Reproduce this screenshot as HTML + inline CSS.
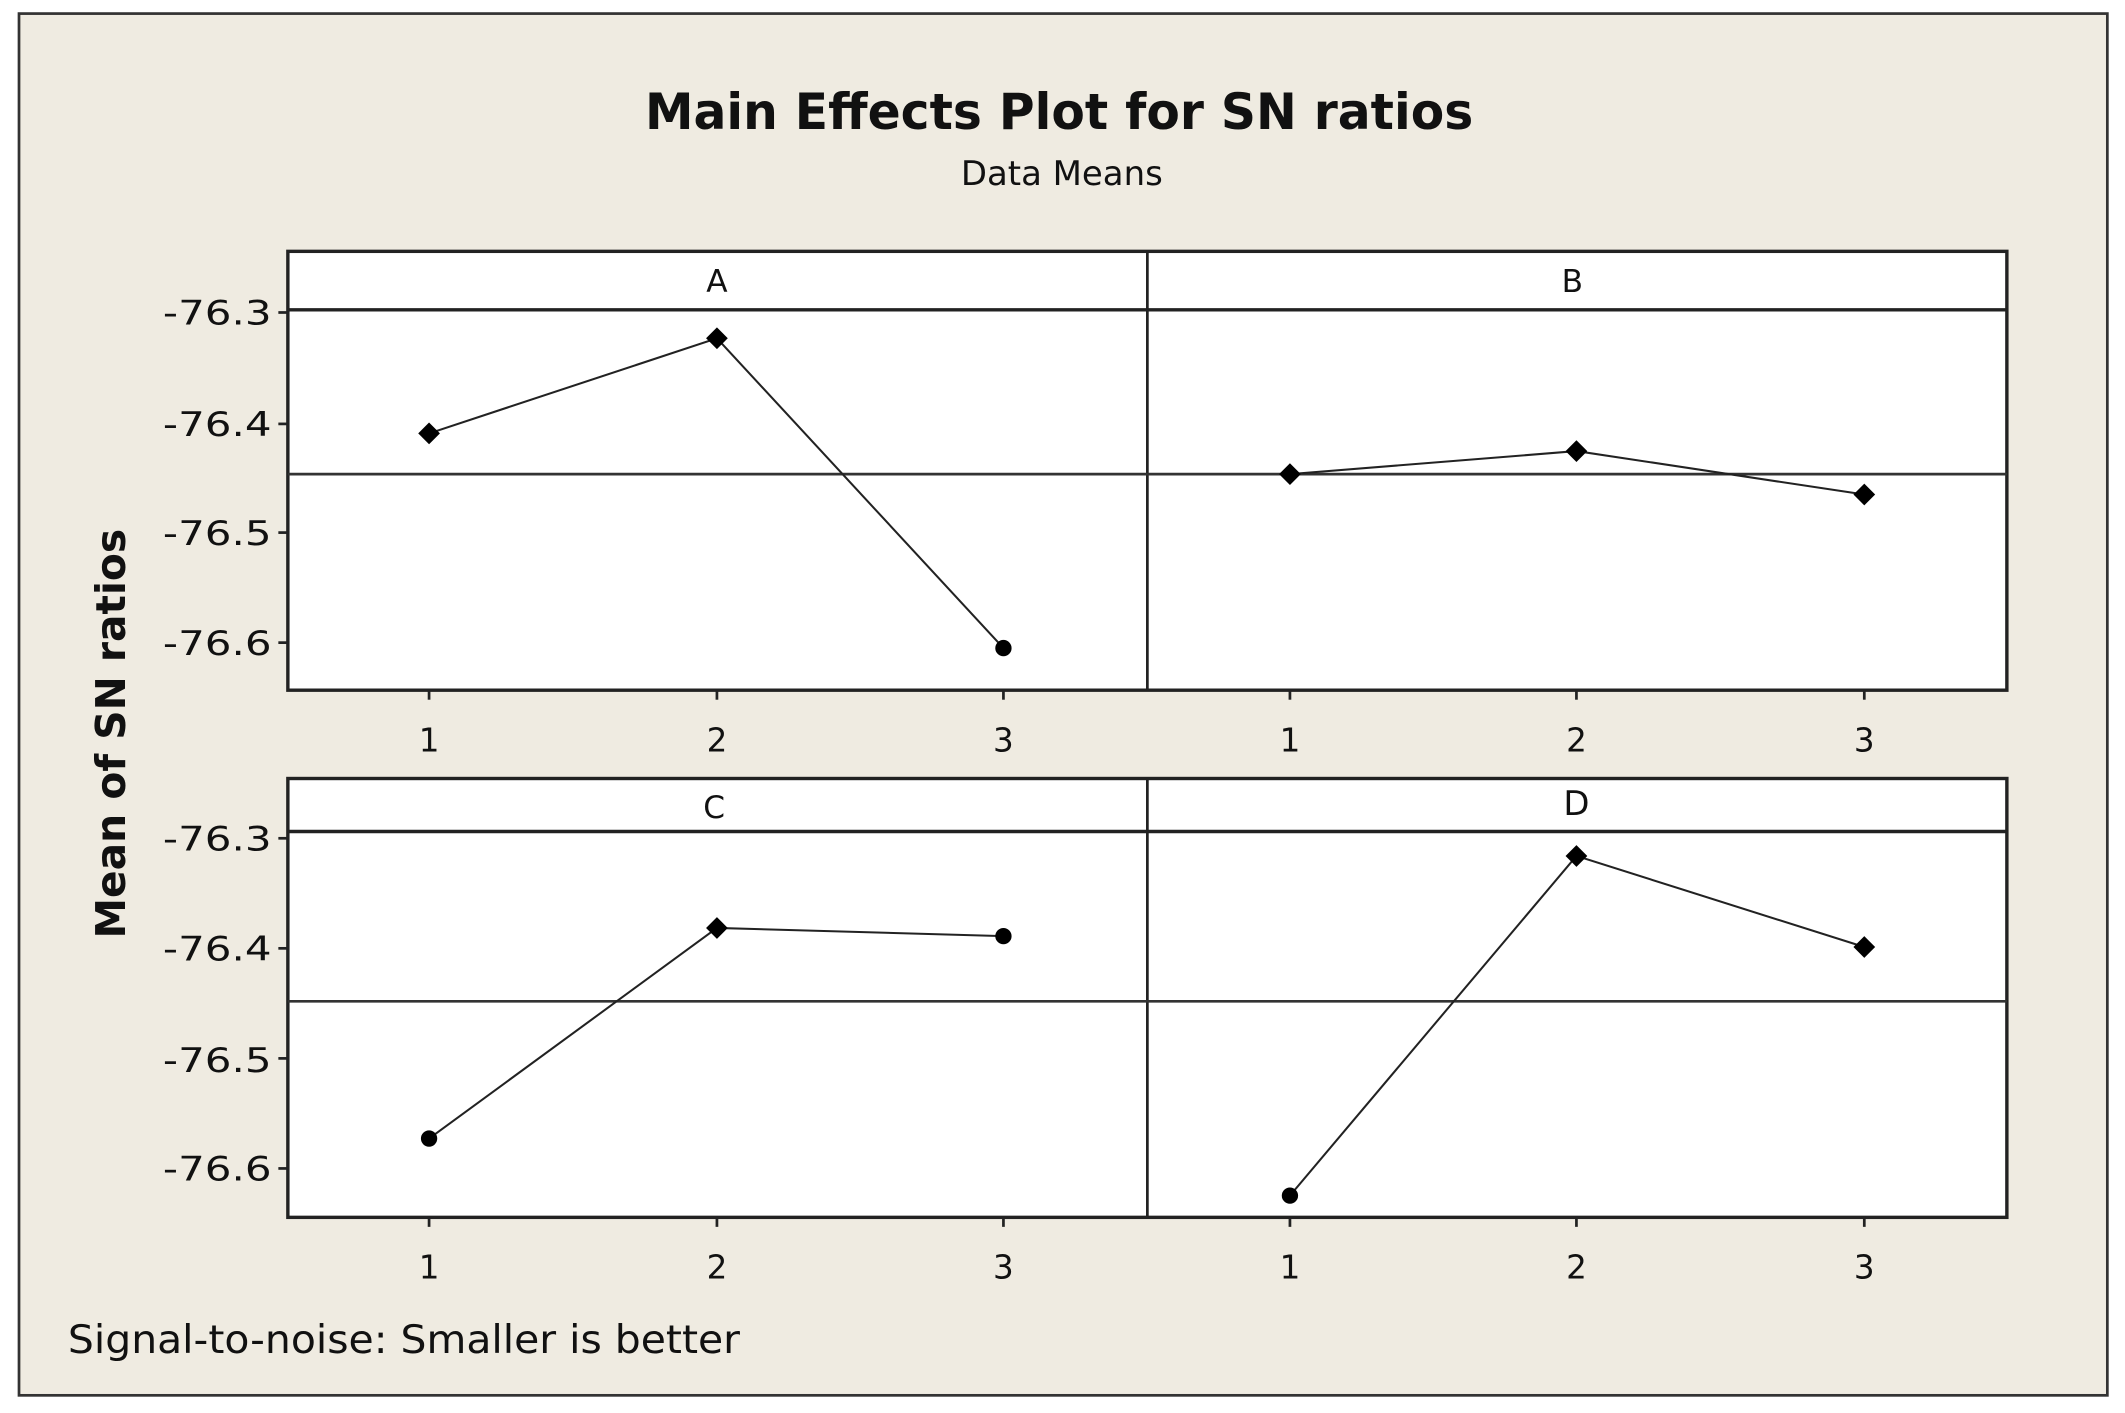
<!DOCTYPE html>
<html><head><meta charset="utf-8"><style>
html,body{margin:0;padding:0;background:#fff;}
svg{display:block;}
text{font-family:"DejaVu Sans","Liberation Sans",sans-serif;fill:#111;}
</style></head><body>
<svg width="2125" height="1413" viewBox="0 0 1565 1040" preserveAspectRatio="none" xmlns="http://www.w3.org/2000/svg">
<rect x="0" y="0" width="1565" height="1040" fill="#ffffff"/>
<rect x="14" y="10" width="1538" height="1017" fill="#efebe1" stroke="#333" stroke-width="2"/>
<text x="780" y="95" text-anchor="middle" font-size="37" font-weight="bold" textLength="610" lengthAdjust="spacingAndGlyphs">Main Effects Plot for SN ratios</text>
<text x="782" y="136" text-anchor="middle" font-size="25">Data Means</text>
<text transform="translate(92,540) rotate(-90)" text-anchor="middle" font-size="30" font-weight="bold">Mean of SN ratios</text>
<text x="50" y="996" font-size="29" textLength="495" lengthAdjust="spacingAndGlyphs">Signal-to-noise: Smaller is better</text>

<!-- top panels -->
<rect x="212" y="185" width="1266" height="323" fill="#fff" stroke="#222" stroke-width="2.5"/>
<line x1="212" y1="228" x2="1478" y2="228" stroke="#222" stroke-width="2.5"/>
<line x1="845" y1="185" x2="845" y2="508" stroke="#222" stroke-width="2"/>
<line x1="212" y1="349" x2="1478" y2="349" stroke="#333" stroke-width="2"/>
<text x="528" y="215" text-anchor="middle" font-size="23">A</text>
<text x="1158" y="215" text-anchor="middle" font-size="23">B</text>
<g font-size="25" text-anchor="end">
<text x="200" y="239" textLength="80" lengthAdjust="spacingAndGlyphs">-76.3</text><text x="200" y="321" textLength="80" lengthAdjust="spacingAndGlyphs">-76.4</text><text x="200" y="401" textLength="80" lengthAdjust="spacingAndGlyphs">-76.5</text><text x="200" y="482" textLength="80" lengthAdjust="spacingAndGlyphs">-76.6</text>
</g>
<g stroke="#222" stroke-width="2">
<line x1="205" y1="230" x2="212" y2="230"/><line x1="205" y1="312" x2="212" y2="312"/><line x1="205" y1="392" x2="212" y2="392"/><line x1="205" y1="473" x2="212" y2="473"/>
<line x1="316" y1="508" x2="316" y2="515"/><line x1="528" y1="508" x2="528" y2="515"/><line x1="739" y1="508" x2="739" y2="515"/>
<line x1="950" y1="508" x2="950" y2="515"/><line x1="1161" y1="508" x2="1161" y2="515"/><line x1="1373" y1="508" x2="1373" y2="515"/>
</g>
<g font-size="24" text-anchor="middle">
<text x="316" y="553">1</text><text x="528" y="553">2</text><text x="739" y="553">3</text>
<text x="950" y="553">1</text><text x="1161" y="553">2</text><text x="1373" y="553">3</text>
</g>
<polyline points="316,319 528,249 739,477" fill="none" stroke="#222" stroke-width="1.5"/>
<polyline points="950,349 1161,332 1373,364" fill="none" stroke="#222" stroke-width="1.5"/>

<!-- bottom panels -->
<rect x="212" y="573" width="1266" height="323" fill="#fff" stroke="#222" stroke-width="2.5"/>
<line x1="212" y1="612" x2="1478" y2="612" stroke="#222" stroke-width="2.5"/>
<line x1="845" y1="573" x2="845" y2="896" stroke="#222" stroke-width="2"/>
<line x1="212" y1="737" x2="1478" y2="737" stroke="#333" stroke-width="2"/>
<text x="526" y="602" text-anchor="middle" font-size="23">C</text>
<text x="1161" y="600" text-anchor="middle" font-size="25">D</text>
<g font-size="25" text-anchor="end">
<text x="200" y="626" textLength="80" lengthAdjust="spacingAndGlyphs">-76.3</text><text x="200" y="707" textLength="80" lengthAdjust="spacingAndGlyphs">-76.4</text><text x="200" y="789" textLength="80" lengthAdjust="spacingAndGlyphs">-76.5</text><text x="200" y="869" textLength="80" lengthAdjust="spacingAndGlyphs">-76.6</text>
</g>
<g stroke="#222" stroke-width="2">
<line x1="205" y1="617" x2="212" y2="617"/><line x1="205" y1="698" x2="212" y2="698"/><line x1="205" y1="779" x2="212" y2="779"/><line x1="205" y1="860" x2="212" y2="860"/>
<line x1="316" y1="896" x2="316" y2="903"/><line x1="528" y1="896" x2="528" y2="903"/><line x1="739" y1="896" x2="739" y2="903"/>
<line x1="950" y1="896" x2="950" y2="903"/><line x1="1161" y1="896" x2="1161" y2="903"/><line x1="1373" y1="896" x2="1373" y2="903"/>
</g>
<g font-size="24" text-anchor="middle">
<text x="316" y="941">1</text><text x="528" y="941">2</text><text x="739" y="941">3</text>
<text x="950" y="941">1</text><text x="1161" y="941">2</text><text x="1373" y="941">3</text>
</g>
<polyline points="316,838 528,683 739,689" fill="none" stroke="#222" stroke-width="1.5"/>
<polyline points="950,880 1161,630 1373,697" fill="none" stroke="#222" stroke-width="1.5"/>

<!-- markers -->
<g fill="#000">
<path d="M316,311 l8,8 l-8,8 l-8,-8z"/>
<path d="M528,241 l8,8 l-8,8 l-8,-8z"/>
<circle cx="739" cy="477" r="6"/>
<path d="M950,341 l8,8 l-8,8 l-8,-8z"/>
<path d="M1161,324 l8,8 l-8,8 l-8,-8z"/>
<path d="M1373,356 l8,8 l-8,8 l-8,-8z"/>
<circle cx="316" cy="838" r="6"/>
<path d="M528,675 l8,8 l-8,8 l-8,-8z"/>
<circle cx="739" cy="689" r="6"/>
<circle cx="950" cy="880" r="6"/>
<path d="M1161,622 l8,8 l-8,8 l-8,-8z"/>
<path d="M1373,689 l8,8 l-8,8 l-8,-8z"/>
</g>
</svg>
</body></html>
